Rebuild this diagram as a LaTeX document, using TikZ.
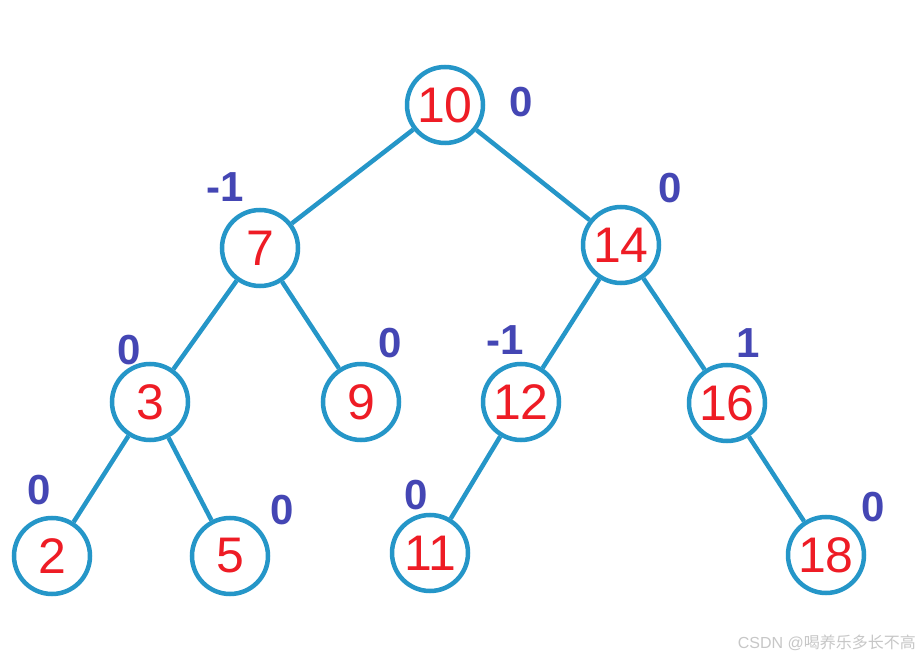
\documentclass[tikz,border=0pt]{standalone}
\usepackage{fontspec}
\setmainfont{Liberation Sans}
\newfontfamily\cjk{Noto Sans CJK SC}
\definecolor{ring}{HTML}{2596C8}
\definecolor{numred}{HTML}{EE1C25}
\definecolor{bfblue}{HTML}{4446B4}
\begin{document}
\begin{tikzpicture}[x=1pt,y=-1pt,
  tnode/.style={circle,draw=ring,line width=4.5pt,fill=white,minimum size=76pt,inner sep=0pt,
     text=numred,font=\fontsize{50}{50}\selectfont},
  edge/.style={draw=ring,line width=4.5pt},
  bf/.style={text=bfblue,font=\fontsize{42}{42}\selectfont\bfseries,inner sep=0pt}]
\useasboundingbox (0,0) rectangle (922,660);
\fill[white] (0,0) rectangle (922,660);
\node[tnode] (n10) at (445,105) {10};
\node[tnode] (n7) at (260,248) {7};
\node[tnode] (n14) at (621,245) {14};
\node[tnode] (n3) at (150,402) {3};
\node[tnode] (n9) at (361,402) {9};
\node[tnode] (n12) at (521,402) {12};
\node[tnode] (n16) at (727,403) {16};
\node[tnode] (n2) at (52,556) {2};
\node[tnode] (n5) at (230,556) {5};
\node[tnode] (n11) at (430,553) {11};
\node[tnode] (n18) at (826,555) {18};
\draw[edge] (n10) -- (n7);
\draw[edge] (n10) -- (n14);
\draw[edge] (n7) -- (n3);
\draw[edge] (n7) -- (n9);
\draw[edge] (n14) -- (n12);
\draw[edge] (n14) -- (n16);
\draw[edge] (n3) -- (n2);
\draw[edge] (n3) -- (n5);
\draw[edge] (n12) -- (n11);
\draw[edge] (n16) -- (n18);
\node[bf] (b10) at (521,102) {0};
\node[bf] (b7) at (225,187) {-1};
\node[bf] (b14) at (670,188) {0};
\node[bf] (b3) at (129,350) {0};
\node[bf] (b9) at (390,343) {0};
\node[bf] (b12) at (505,340) {-1};
\node[bf] (b16) at (748,343) {1};
\node[bf] (b2) at (39,490) {0};
\node[bf] (b5) at (282,510) {0};
\node[bf] (b11) at (416,495) {0};
\node[bf] (b18) at (873,507) {0};
\node[anchor=east,text=black!22,font=\fontsize{16}{16}\selectfont,inner sep=0pt] (wm) at (916,643) {CSDN @{\cjk 喝养乐多长不高}};
\end{tikzpicture}
\end{document}
